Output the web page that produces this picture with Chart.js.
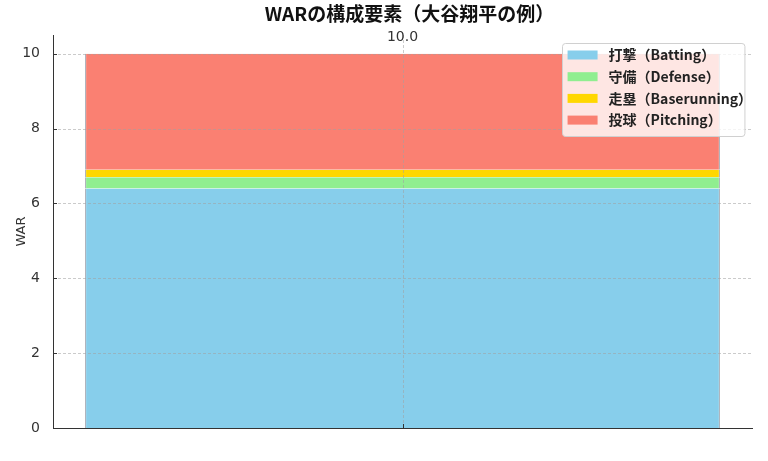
<!DOCTYPE html>
<html>
<head>
<meta charset="utf-8">
<script src="https://cdn.jsdelivr.net/npm/chart.js@4"></script>
<style>
  html, body { margin: 0; padding: 0; background: #fff; }
  #wrap { width: 768px; height: 461px; }
</style>
</head>
<body>
<div id="wrap"><canvas id="chart"></canvas></div>
<script>
const categories = ["大谷翔平"];
const seriesLabels = ["打撃（Batting）", "守備（Defense）", "走塁（Baserunning）", "投球（Pitching）"];
const batting = [6.4];
const defense = [0.3];
const baserunning = [0.2];
const pitching = [3.1];
const yTicks = [0, 2, 4, 6, 8, 10];
const chartTitle = "WARの構成要素（大谷翔平の例）";

const colors = ["#87CEEB", "#90EE90", "#FFD700", "#FA8072"];
const cjk = '"Noto Sans CJK JP", "DejaVu Sans", sans-serif';
const latin = '"DejaVu Sans", sans-serif';
const gridColor = "rgba(160,160,160,0.55)";

// title centred over the plot
const figTitle = {
    id: "figTitle",
    afterDraw(chart) {
        const ctx = chart.ctx;
        const area = chart.chartArea;
        ctx.save();
        ctx.font = "bold 19px " + cjk;
        ctx.fillStyle = "#111";
        ctx.textAlign = "center";
        ctx.textBaseline = "middle";
        ctx.fillText(chartTitle, (area.left + area.right) / 2 + 7, 14);
        ctx.restore();
    }
};

// inward tick marks, like the original
const tickMarks = {
    id: "tickMarks",
    afterDraw(chart) {
        const ctx = chart.ctx;
        const area = chart.chartArea;
        const y = chart.scales.y;
        const x = chart.scales.x;
        ctx.save();
        ctx.strokeStyle = "#333";
        ctx.lineWidth = 1;
        ctx.beginPath();
        yTicks.forEach(v => {
            const py = Math.round(y.getPixelForValue(v)) + 0.5;
            ctx.moveTo(area.left, py);
            ctx.lineTo(area.left + 4, py);
        });
        categories.forEach((c, i) => {
            const px = Math.round(x.getPixelForValue(i)) + 0.5;
            ctx.moveTo(px, area.bottom);
            ctx.lineTo(px, area.bottom - 4);
        });
        ctx.stroke();
        ctx.restore();
    }
};

// dashed grid on top of the bar
const overGrid = {
    id: "overGrid",
    afterDatasetsDraw(chart) {
        const ctx = chart.ctx;
        const area = chart.chartArea;
        const y = chart.scales.y;
        const x = chart.scales.x;
        ctx.save();
        ctx.strokeStyle = gridColor;
        ctx.lineWidth = 1;
        ctx.setLineDash([3, 2]);
        ctx.beginPath();
        yTicks.forEach(v => {
            if (v === 0) return;
            const py = Math.round(y.getPixelForValue(v)) + 0.5;
            ctx.moveTo(area.left, py);
            ctx.lineTo(area.right, py);
        });
        categories.forEach((c, i) => {
            const px = Math.round(x.getPixelForValue(i)) + 0.5;
            ctx.moveTo(px, area.top);
            ctx.lineTo(px, area.bottom);
        });
        ctx.stroke();
        ctx.restore();
    }
};

// total above the stack
const totalLabel = {
    id: "totalLabel",
    afterDatasetsDraw(chart) {
        const ctx = chart.ctx;
        const x = chart.scales.x;
        const y = chart.scales.y;
        ctx.save();
        ctx.font = "14px " + latin;
        ctx.fillStyle = "#333";
        ctx.textAlign = "center";
        ctx.textBaseline = "middle";
        categories.forEach((c, i) => {
            let total = 0;
            chart.data.datasets.forEach(ds => { total += ds.data[i]; });
            ctx.fillText(total.toFixed(1), x.getPixelForValue(i), y.getPixelForValue(total) - 16);
        });
        ctx.restore();
    }
};

// legend box drawn inside the plot, top right
const boxLegend = {
    id: "boxLegend",
    afterDraw(chart) {
        const ctx = chart.ctx;
        const area = chart.chartArea;
        const sets = chart.data.datasets;
        ctx.save();
        ctx.font = "bold 14px " + cjk;
        let maxW = 0;
        sets.forEach(ds => { maxW = Math.max(maxW, ctx.measureText(ds.label).width); });
        const w = 47 + maxW - 8;
        const h = 93;
        const right = area.right - 8;
        const left = right - w;
        const top = 43;
        ctx.fillStyle = "rgba(255,255,255,0.8)";
        ctx.strokeStyle = "#d0d0d0";
        ctx.lineWidth = 1;
        ctx.beginPath();
        ctx.roundRect(Math.round(left) + 0.5, top + 0.5, w, h, 3);
        ctx.fill();
        ctx.stroke();
        ctx.textBaseline = "middle";
        ctx.textAlign = "left";
        sets.forEach((ds, i) => {
            const cy = top + 12 + i * 21.7;
            ctx.fillStyle = ds.backgroundColor;
            ctx.fillRect(left + 6, cy - 4.5, 30, 9);
            ctx.fillStyle = "#222";
            ctx.fillText(ds.label, left + 47, cy);
        });
        ctx.restore();
    }
};

const seriesData = [batting, defense, baserunning, pitching];

new Chart(document.getElementById("chart"), {
    type: "bar",
    data: {
        labels: categories,
        datasets: seriesData.map((d, i) => ({
            label: seriesLabels[i],
            data: d,
            backgroundColor: colors[i],
            borderColor: "rgba(70,80,100,0.6)",
            borderWidth: { left: 1, right: 1, top: 0, bottom: 0 },
            borderSkipped: false,
            barPercentage: 0.908,
            categoryPercentage: 1
        }))
    },
    options: {
        responsive: true,
        maintainAspectRatio: false,
        animation: false,
        layout: { padding: { left: 0, right: 16, top: 35, bottom: 0 } },
        plugins: {
            legend: { display: false },
            tooltip: { enabled: false },
            title: { display: false }
        },
        scales: {
            x: {
                stacked: true,
                grid: { display: false },
                border: { display: true, color: "#333", width: 1 },
                ticks: { display: false },
                afterFit(scale) { scale.height = 33; }
            },
            y: {
                stacked: true,
                min: 0,
                max: 10.5,
                afterBuildTicks(scale) { scale.ticks = yTicks.map(v => ({ value: v })); },
                grid: { display: false },
                border: { display: true, color: "#333", width: 1 },
                ticks: {
                    color: "#333",
                    padding: 5,
                    font: { family: latin, size: 14 }
                },
                title: {
                    display: true,
                    text: "WAR",
                    color: "#333",
                    font: { family: latin, size: 13 },
                    padding: { top: 14, bottom: 0 }
                },
                afterFit(scale) { scale.width = 53; }
            }
        }
    },
    plugins: [overGrid, totalLabel, tickMarks, boxLegend, figTitle]
});
</script>
</body>
</html>
